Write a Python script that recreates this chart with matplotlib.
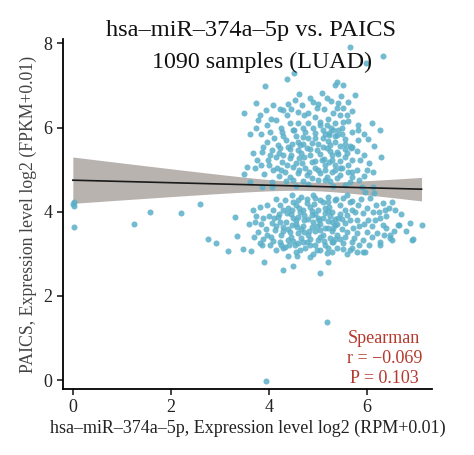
import matplotlib
matplotlib.use("Agg")
import matplotlib.pyplot as plt
import numpy as np

plt.rcParams['font.family'] = ['Liberation Serif', 'DejaVu Serif']

# hsa-miR-374a-5p expression (log2 RPM+0.01) and PAICS expression (log2 FPKM+0.01)
pts = [
    # outliers / left
    (0.02,4.23),(0.02,4.13),(0.02,3.63),(0.0,4.18),(1.24,3.70),(1.57,4.00),(2.20,3.97),(2.59,4.18),
    (3.31,3.87),(2.76,3.35),(2.92,3.26),(3.35,3.42),(3.16,3.06),(3.47,3.11),(3.50,4.90),(5.18,1.38),(3.94,-0.02),
    # top
    (5.65,7.91),(6.33,7.70),(5.98,7.53),(5.39,7.08),(5.51,7.01),(5.35,7.01),(4.37,7.15),(3.92,6.98),(4.51,7.29),(5.76,6.77),
    # upper left cluster
    (3.73,6.58),(3.49,6.34),(4.08,6.53),(3.94,6.41),(3.82,6.29),(3.78,6.18),(3.96,6.06),(4.02,5.89),(4.14,6.18),
    (4.29,6.41),(4.37,6.29),(4.53,6.65),(4.67,6.53),(4.59,6.37),(4.73,6.29),(4.84,6.70),(4.98,6.46),(5.08,6.82),
    (5.18,6.70),(4.80,6.10),(4.43,6.10),(4.49,5.94),(4.27,5.89),(4.90,5.99),(5.04,6.13),(5.18,6.06),(5.24,5.87),
    (4.69,5.77),(3.96,5.65),(3.88,5.53),(4.18,5.58),(4.39,5.53),(4.63,5.58),(4.88,5.63),(5.10,5.53),
    # upper right cluster
    (5.41,6.58),(5.61,6.60),(5.51,6.46),(5.39,6.46),(5.31,6.34),(5.59,6.29),(5.51,6.13),(5.35,6.10),(5.31,5.94),
    (5.41,5.94),(5.24,5.82),(5.39,5.82),(5.82,6.06),(5.82,5.94),(6.10,6.10),(6.27,5.94),(6.02,5.72),(5.82,5.70),
    (5.55,5.72),(5.65,5.56),(5.71,5.53),
    # middle upper
    (3.86,5.42),(4.06,5.46),(4.22,5.51),(4.43,5.48),(4.59,5.46),(4.78,5.51),(4.98,5.46),(5.18,5.51),(5.29,5.34),
    (3.76,5.23),(3.55,5.06),(3.71,5.04),(3.98,5.23),(4.16,5.04),(4.27,5.18),(4.43,5.27),(4.49,5.06),(4.67,5.15),
    (4.73,5.30),(4.88,5.18),(4.94,5.04),(5.08,5.23),(5.14,5.11),(5.24,5.18),(4.59,4.92),(4.78,4.87),(4.88,4.80),
    (5.04,4.92),(5.18,4.82),(5.29,4.94),(4.43,4.82),(4.33,4.94),(4.08,4.99),(3.61,4.70),(3.86,4.58),(4.06,4.58),(4.06,4.70),
    # middle lower
    (3.82,4.11),(3.67,4.04),(3.96,4.16),(4.08,4.04),(4.22,4.16),(4.33,4.28),(4.47,4.39),(4.59,4.28),(4.78,4.20),
    (4.94,4.32),(5.10,4.23),(5.24,4.11),(3.71,3.75),(3.88,3.85),(4.06,3.73),(4.18,3.87),(4.37,3.97),(4.49,3.85),
    (4.63,3.99),(4.73,3.80),(4.88,3.92),(5.00,3.85),(5.14,3.97),(5.29,3.75),(3.78,3.52),(3.96,3.44),(4.12,3.56),
    (4.29,3.63),(4.43,3.52),(4.57,3.63),(4.73,3.52),(4.88,3.63),(5.04,3.56),(5.20,3.61),(3.82,3.25),(4.02,3.21),
    (4.22,3.28),(4.39,3.33),(4.53,3.21),(4.69,3.28),(4.84,3.21),(5.00,3.33),(5.14,3.21),(5.29,3.28),(4.29,3.14),
    (4.63,3.09),(4.98,3.09),
    # right side
    (5.39,5.42),(5.55,5.30),(5.69,5.51),(5.71,5.23),(5.86,5.23),(5.35,5.11),(5.49,5.04),(5.61,4.94),(6.12,4.94),
    (5.71,4.82),(5.39,4.80),(5.55,4.63),(5.90,4.58),(6.12,4.58),(5.96,4.47),
    (5.35,4.28),(5.51,4.32),(5.65,4.23),(5.82,4.16),(6.06,4.32),(6.20,4.16),(6.33,4.20),(6.51,4.23),(6.57,4.04),
    (6.37,4.04),(6.12,3.99),(5.92,3.97),(5.76,3.99),(5.59,3.92),(5.41,3.85),(5.35,3.68),(5.55,3.73),(5.80,3.80),
    (6.02,3.80),(6.27,3.85),(6.33,3.68),(6.67,3.68),(6.88,3.73),(7.12,3.68),(6.92,3.33),(6.47,3.44),(6.22,3.49),
    (6.00,3.52),(5.80,3.49),(5.59,3.52),(5.39,3.44),(5.31,3.28),(5.51,3.25),(5.71,3.28),(5.92,3.33),(6.27,3.28),
    (6.51,3.33),(5.65,3.09),(5.92,3.04),
    # bottom fringe
    (3.63,3.06),(3.86,3.21),(3.90,2.80),(4.14,3.09),(4.29,2.61),(4.49,2.71),(4.57,2.95),(4.84,2.92),(5.04,2.54),
    (5.20,2.80),(5.18,3.02),(5.51,3.11),(5.71,3.14),(5.96,3.04),(6.27,3.21),(6.47,3.37),(6.94,3.35),(4.33,3.16),(6.63,3.68),
    # dense core upper
    (4.35,5.70),(4.55,5.80),(4.75,5.90),(4.95,5.75),(5.15,5.85),(5.35,5.65),(5.50,5.85),(4.45,5.35),(4.65,5.40),
    (4.85,5.35),(5.05,5.38),(5.25,5.45),(5.45,5.20),(5.60,5.40),(4.55,5.15),(4.75,5.05),(4.95,5.20),(5.15,4.98),
    (5.35,5.00),(5.00,5.60),(4.80,5.75),(4.60,5.65),(5.20,5.68),(5.45,5.55),(4.30,5.35),(4.15,5.30),(4.00,5.10),
    (3.90,4.90),(4.20,4.85),(4.50,4.75),(4.70,4.72),(5.00,4.75),(5.25,4.72),(5.45,4.88),(5.80,5.00),(5.95,5.35),
    (5.80,5.45),(6.05,5.15),(4.10,5.75),(4.25,6.00),(4.60,6.10),(4.95,6.25),(5.20,6.20),(5.45,6.30),(5.70,6.40),
    (5.00,6.55),(4.45,6.45),(3.85,5.85),(4.70,6.00),(5.10,5.95),
    (4.05,6.20),(4.22,6.45),(4.40,6.55),(4.62,6.80),(4.90,6.60),(5.12,6.45),(5.28,6.62),(5.48,6.75),(5.62,6.15),
    (5.70,5.90),(5.95,5.85),(6.15,5.55),(6.30,5.30),(6.00,5.00),(5.85,4.75),(5.65,4.70),(5.55,5.60),(5.35,5.80),
    (5.10,5.75),(4.85,5.50),(4.62,5.28),(4.38,5.12),(4.20,5.40),(4.02,5.35),(3.85,5.10),(3.68,5.40),(3.62,5.85),
    (3.75,6.00),(4.30,5.80),(4.52,5.95),(4.80,6.35),(5.05,6.05),(5.28,6.00),(5.50,5.98),(5.12,5.25),(5.30,5.22),
    (5.45,5.05),(5.62,5.12),(5.00,5.00),(4.82,4.95),(4.62,5.00),(4.35,4.72),(4.25,5.00),(5.15,4.75),(5.32,4.62),
    (4.80,4.65),(4.55,4.62),(5.70,4.95),(5.95,4.85),(4.95,5.88),(4.70,5.62),(4.48,5.60),(5.25,5.58),(5.42,5.38),(5.55,5.48),
    # dense core lower
    (4.40,4.10),(4.55,4.15),(4.70,4.05),(4.85,4.12),(5.00,4.05),(5.15,4.10),(5.30,4.00),(5.45,4.15),(4.45,3.95),
    (4.60,3.88),(4.80,3.82),(4.95,3.95),(5.10,3.85),(5.25,3.90),(5.45,3.95),(4.35,3.75),(4.55,3.72),(4.70,3.65),
    (4.90,3.75),(5.05,3.70),(5.20,3.78),(5.40,3.72),(4.40,3.60),(4.60,3.50),(4.80,3.45),(4.95,3.55),(5.10,3.45),
    (5.30,3.55),(5.50,3.60),(4.25,3.45),(4.45,3.40),(4.65,3.38),(4.85,3.35),(5.05,3.40),(5.25,3.38),(5.45,3.35),
    (4.50,3.30),(4.75,3.15),(5.20,3.15),(5.40,3.15),(4.20,3.95),(4.10,3.85),(4.05,3.40),(3.95,3.60),(4.15,4.30),
    (4.65,4.35),(4.90,4.40),(5.20,4.35),(5.60,4.40),(5.70,4.05),(5.65,3.80),(5.85,3.65),(6.10,3.65),(5.75,3.38),
    (6.05,3.20),(5.60,3.00),(6.15,4.45),(6.40,3.90),(3.75,3.90),(3.60,3.70),
    (4.30,4.05),(4.50,4.22),(4.62,4.10),(4.78,4.30),(4.92,4.18),(5.05,4.28),(5.22,4.22),(5.38,4.30),(5.55,4.05),
    (5.70,4.25),(5.88,4.30),(6.00,4.10),(6.25,4.00),(6.45,4.10),(6.70,3.95),(6.80,3.55),(6.55,3.55),(6.40,3.62),
    (6.18,3.80),(5.95,3.70),(5.72,3.62),(5.50,3.82),(5.32,3.62),(5.15,3.62),(4.98,3.65),(4.82,3.55),(4.65,3.58),
    (4.48,3.68),(4.30,3.55),(4.15,3.65),(4.00,3.90),(3.85,3.70),(3.70,3.40),(3.88,3.35),(4.08,3.30),(4.25,3.22),
    (4.42,3.20),(4.60,3.25),(4.78,3.28),(4.95,3.20),(5.12,3.30),(5.35,3.35),(5.55,3.40),(5.85,3.20),(6.10,3.40),
    (6.35,3.45),(4.55,3.05),(4.90,3.00),(5.30,3.05),(5.80,3.05),(4.40,2.95),(5.05,3.10),(4.72,3.92),(4.55,3.80),
    (5.02,3.80),(5.35,3.82),(5.20,4.02),(4.88,4.02),(4.48,4.05),(4.22,3.75),
]
mirna_log2 = [p[0] for p in pts]
paics_log2 = [p[1] for p in pts]

# regression line and confidence band
fit_intercept = 4.75
fit_slope = -0.03
fit_x_range = [0.0, 7.12]
ci_center_x = 4.8
ci_min_half = 0.10
ci_half_at_zero = 0.55

x_ticks = [0, 2, 4, 6]
y_ticks = [0, 2, 4, 6, 8]
title_line1 = "hsa\u2013miR\u2013374a\u20135p vs. PAICS"
title_line2 = "1090 samples (LUAD)"
x_label = "hsa\u2013miR\u2013374a\u20135p, Expression level log2 (RPM+0.01)"
y_label = "PAICS, Expression level log2 (FPKM+0.01)"
stat_lines = ["Spearman", "r = \u22120.069", "P = 0.103"]

fig = plt.figure(figsize=(4.74, 4.55), dpi=100)
ax = fig.add_axes([0.133, 0.145, 0.778, 0.769])

xs = np.linspace(fit_x_range[0], fit_x_range[1], 200)
ys = fit_intercept + fit_slope * xs
b = (ci_half_at_zero**2 - ci_min_half**2) / (ci_center_x**2)
half = np.sqrt(ci_min_half**2 + b * (xs - ci_center_x)**2)
ax.fill_between(xs, ys - half, ys + half, color="#B9B3B0", lw=0, zorder=1)
ax.scatter(mirna_log2, paics_log2, s=19, color="#5AAFC8", alpha=0.85, lw=0, zorder=2)
ax.plot(xs, ys, color="#1a1a1a", lw=1.2, zorder=3)

ax.set_xlim(-0.2, 7.33)
ax.set_ylim(-0.21, 8.1)
ax.set_xticks(x_ticks)
ax.set_yticks(y_ticks)
for s in ["top", "right"]:
    ax.spines[s].set_visible(False)
for s in ["left", "bottom"]:
    ax.spines[s].set_linewidth(1.3)
ax.tick_params(direction="out", length=4, width=1.2, labelsize=13, colors="#222222")
ax.set_xlabel(x_label, fontsize=13, color="#222222", labelpad=2)
ax.set_ylabel(y_label, fontsize=12.8, color="#444444", labelpad=5)

fig.text(0.53, 0.934, title_line1, ha="center", va="center", fontsize=17.6, color="#111111")
fig.text(0.552, 0.862, title_line2, ha="center", va="center", fontsize=17.3, color="#111111")

for i, t in enumerate(stat_lines):
    ax.text(6.36, 1.0 - i * 0.48, t, ha="center", va="center", fontsize=13, color="#B5382C")

fig.savefig("out.png", dpi=100)
